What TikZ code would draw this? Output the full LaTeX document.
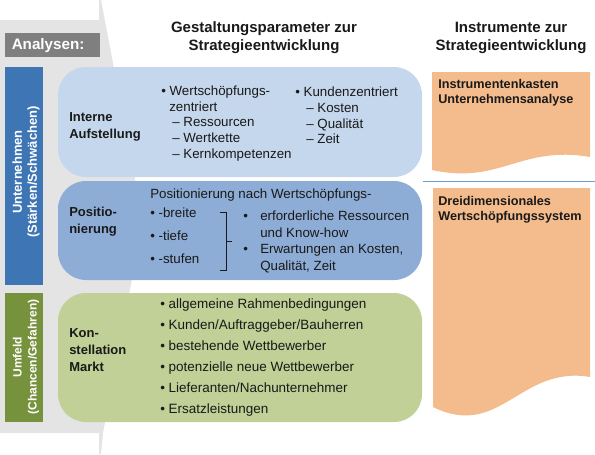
\documentclass[tikz,border=0pt]{standalone}
\usepackage{fontspec}
\setmainfont{Liberation Sans}
\usetikzlibrary{shapes.geometric}

\definecolor{bggray}{RGB}{228,228,228}
\definecolor{headgray}{RGB}{127,127,127}
\definecolor{barblue}{RGB}{62,117,181}
\definecolor{bargreen}{RGB}{118,146,60}
\definecolor{boxlight}{RGB}{197,215,236}
\definecolor{boxmid}{RGB}{142,173,214}
\definecolor{boxgreen}{RGB}{192,208,150}
\definecolor{orangebox}{RGB}{244,188,140}
\definecolor{linecol}{RGB}{110,155,210}
\definecolor{txt}{RGB}{25,25,25}

\tikzstyle{body} = [inner sep=0pt, anchor=west, align=left, text=txt, font=\fontsize{10}{11.8}\selectfont]
\tikzstyle{boxlabel} = [inner sep=0pt, anchor=west, align=left, text=txt, font=\bfseries\fontsize{9.75}{12.75}\selectfont]
\tikzstyle{header} = [inner sep=0pt, align=center, text=txt, font=\bfseries\fontsize{11.25}{13.5}\selectfont]
\tikzstyle{bartext} = [inner sep=0pt, align=center, text=white, rotate=90, font=\bfseries\fontsize{9.75}{11.25}\selectfont]
\tikzstyle{instr} = [inner sep=0pt, anchor=west, align=left, text=txt, font=\bfseries\fontsize{9.5}{11.25}\selectfont]
\tikzstyle{brkt} = [txt, line width=0.6pt]

\begin{document}
\begin{tikzpicture}[x=0.75pt, y=-0.75pt]

\useasboundingbox (0,0) rectangle (595,454);

% background and analysis column

\fill[bggray] (0,20) -- (99,20) -- (99,0) -- (101,0) -- (143,221) -- (103,433) -- (101,454) -- (99,454) -- (99,433) -- (0,433) -- cycle;

\fill[headgray] (5,33) rectangle (100,57);
\node[anchor=west, inner sep=0pt, text=white, font=\bfseries\fontsize{11.4}{13}\selectfont] (analysen) at (11.5,45.5) {Analysen:};

\fill[barblue] (5,67) rectangle (43,285);
\fill[bargreen] (5,293) rectangle (43,422);
\node[bartext] (unternehmen) at (26,172) {Unternehmen\\(Stärken/Schwächen)};
\node[bartext, font=\bfseries\fontsize{9}{11.25}\selectfont] (umfeld) at (26,357) {Umfeld\\(Chancen/Gefahren)};

% headers

\node[header] (gestaltung) at (264,38) {Gestaltungsparameter zur\\Strategieentwicklung};
\node[header] (instrumente) at (511,38) {Instrumente zur\\Strategieentwicklung};

% middle column

\fill[boxlight, rounded corners=21pt] (58,67) rectangle (422,177);
\fill[boxmid, rounded corners=21pt] (58,181) rectangle (422,280);
\fill[boxgreen, rounded corners=21pt] (58,293) rectangle (422,422);

\node[boxlabel] (interne) at (69,126.5) {Interne\\Aufstellung};
\node[body] (wertschoepfung) at (161,123.5) {• Wertschöpfungs-\\\hspace*{6pt}zentriert\\\hspace*{8.25pt}– Ressourcen\\\hspace*{8.25pt}– Wertkette\\\hspace*{8.25pt}– Kernkompetenzen};
\node[body] (kunden) at (295,115.5) {• Kundenzentriert\\\hspace*{8.25pt}– Kosten\\\hspace*{8.25pt}– Qualität\\\hspace*{8.25pt}– Zeit};

\node[boxlabel] (position) at (69,221.5) {Positio-\\nierung};
\node[body] (nach) at (150,195) {Positionierung nach Wertschöpfungs-};
\node[body, font=\fontsize{10}{17.25}\selectfont] (dimension) at (150,236) {• -breite\\• -tiefe\\• -stufen};
\draw[brkt] (220,212) -- (226,212) -- (226,270) -- (220,270);
\draw[brkt] (226,241) -- (232,241);
\node[body, font=\fontsize{10}{12.5}\selectfont] (erwartung) at (243,242) {\makebox[12.75pt][l]{•}erforderliche Ressourcen\\\hspace*{12.75pt}und Know-how\\\makebox[12.75pt][l]{•}Erwartungen an Kosten,\\\hspace*{12.75pt}Qualität, Zeit};

\node[boxlabel] (konstellation) at (69,350) {Kon-\\stellation\\Markt};
\node[body, font=\fontsize{10.1}{15.75}\selectfont] (markt) at (160,357.5) {• allgemeine Rahmenbedingungen\\• Kunden/Auftraggeber/Bauherren\\• bestehende Wettbewerber\\• potenzielle neue Wettbewerber\\• Lieferanten/Nachunternehmer\\• Ersatzleistungen};

% right column

\fill[orangebox] (432,72) -- (590,72) -- (590,157) .. controls (520,145) and (500,185) .. (432,170) -- cycle;
\fill[orangebox] (433,188) -- (590,188) -- (590,377) .. controls (520,365) and (500,440) .. (433,407) -- cycle;
\draw[linecol, line width=0.75pt] (423,181) -- (595,181);

\node[instr] (kasten) at (438,92.5) {Instrumentenkasten\\Unternehmensanalyse};
\node[instr] (wertsystem) at (438,209.5) {Dreidimensionales\\Wertschöpfungssystem};

\end{tikzpicture}
\end{document}
